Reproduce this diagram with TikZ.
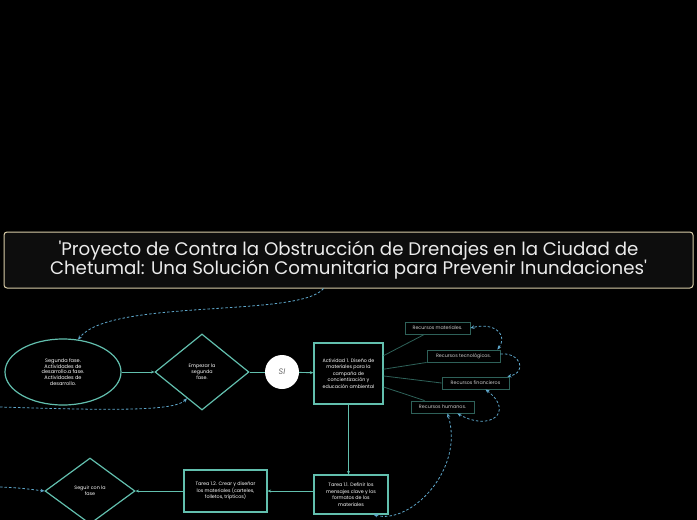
\documentclass[tikz,border=0pt]{standalone}
\usepackage{fontspec}
\setmainfont{Poppins}[Ligatures=TeXOff]
\usetikzlibrary{arrows.meta}
\usetikzlibrary{shapes.geometric}
\usetikzlibrary{calc}
\usetikzlibrary{positioning}
\definecolor{tuerkis}{HTML}{62BFAE}
\definecolor{dunkeltuerkis}{HTML}{2E6159}
\definecolor{hellblau}{HTML}{5FA8CC}
\definecolor{rahmen}{HTML}{D8CCA8}
\tikzset{
  phase/.style={ellipse,draw=tuerkis,line width=1.2pt,fill=black,text=white,
    minimum width=116pt,minimum height=66pt,inner sep=0pt,align=center,
    font=\fontsize{5}{5.8}\selectfont},
  frage/.style={diamond,draw=tuerkis,line width=1.2pt,fill=black,text=white,
    minimum width=94pt,minimum height=76pt,inner sep=0pt,align=center,
    font=\fontsize{4.8}{6}\selectfont},
  aufgabe/.style={rectangle,draw=tuerkis,line width=1.2pt,fill=black,text=white,
    inner sep=0pt,align=center,font=\fontsize{4.8}{6.6}\selectfont},
  mittel/.style={rectangle,draw=dunkeltuerkis,line width=0.9pt,fill=black,
    text=white!80!black,minimum height=12pt,inner sep=0pt,
    font=\fontsize{4.8}{5}\selectfont},
  fluss/.style={tuerkis,line width=0.9pt,-{Stealth[length=3.5pt,width=3pt]}},
  zweig/.style={dunkeltuerkis,line width=0.8pt},
  bezug/.style={hellblau,line width=0.8pt,dash pattern=on 2.5pt off 2pt,
    -{Stealth[length=4pt,width=3.5pt]}},
  beide/.style={bezug,{Stealth[length=4pt,width=3.5pt]}-{Stealth[length=4pt,width=3.5pt]}}
}
\begin{document}
\begin{tikzpicture}[x=1pt,y=-1pt]
  \useasboundingbox (0,0) rectangle (697,520);
  \fill[black] (0,0) rectangle (697,520);
  \clip (0,0) rectangle (697,520);
  % Titel
  \node[draw=rahmen,line width=1pt,rounded corners=3pt,fill=black!95!white,
    text=white!92!black,minimum width=689pt,minimum height=56pt,align=center,
    font=\fontsize{18.2}{19.5}\selectfont] (titel) at (348.5,260)
    {'Proyecto de Contra la Obstrucción de Drenajes en la Ciudad de\\
     Chetumal: Una Solución Comunitaria para Prevenir Inundaciones'};
  % Zweite Phase
  \node[phase] (fase) at (63,372)
    {Segunda fase.\\Actividades de\\desarrollo.a fase.\\Actividades de\\desarrollo.};
  \node[frage] (empezar) at (202,372) {Empezar la\\segunda\\fase.};
  \node[circle,fill=white,minimum size=34pt,inner sep=0pt,text=black!60,
    font=\fontsize{8}{8}\selectfont\itshape] (si) at (282,372) {SI};
  \node[aufgabe,minimum width=69pt,minimum height=61pt] (act) at (348.5,373.5)
    {Actividad 1. Diseño de\\materiales para la\\campaña de\\concientización y\\educación ambiental};
  \node[aufgabe,minimum width=74pt,minimum height=39pt] (t11) at (351,494.5)
    {Tarea 1.1. Definir los\\mensajes clave y los\\formatos de los\\materiales};
  \node[aufgabe,minimum width=83pt,minimum height=42pt] (t12) at (225.5,491)
    {Tarea 1.2. Crear y diseñar\\los materiales (carteles,\\folletos, trípticos)};
  \node[frage,minimum width=90pt,minimum height=66pt] (seguir) at (90,491)
    {Seguir con la\\fase};
  % Recursos
  \foreach \n/\x/\y/\w/\t in {mat/437.5/328/65/Recursos materiales.,
      tec/463.5/356/73/Recursos tecnológicos.,fin/475.5/383/67/Recursos financieros,
      hum/442.5/407/63/Recursos humanos.}
    \node[mittel,minimum width=\w pt] (\n) at (\x,\y) {\t};
  \draw[zweig] (act.27) -- ($(mat.south west)!.3!(mat.south east)$);
  \draw[zweig] (act.7) -- (tec.south west);
  \draw[zweig] (act.-4) -- (fin.west);
  \draw[zweig] (act.-21) -- ($(hum.north west)!.22!(hum.north east)$);
  % Ablauf
  \draw[fluss] (fase) -- (empezar);
  \draw[tuerkis,line width=0.9pt] (empezar) -- (si);
  \draw[fluss] (si) -- (act);
  \draw[fluss] (act) -- (act |- t11.north);
  \draw[fluss] (t11.west |- t12) -- (t12);
  \draw[fluss] (t12) -- (seguir);
  % Beziehungen
  \coordinate (links1) at (0,407);
  \coordinate (links2) at (0,487);
  \draw[bezug] ($(titel.south)+(-25,0)$) .. controls (300,318) and (110,298) .. (fase.65);
  \draw[bezug] (links1) .. controls (100,410) and (175,412) .. (empezar.240);
  \draw[bezug] (links2) .. controls (20,488) .. (seguir.west);
  \draw[beide] ($(tec.north east)+(-3,0)$) .. controls (508,335) and (495,322) .. (mat.east);
  \draw[bezug] ($(tec.east)+(0,-2)$) .. controls (520,352) and (528,372) .. ($(fin.north east)+(-2,0)$);
  \draw[beide] ($(fin.south)+(10,0)$) .. controls (515,412) and (490,432) .. ($(hum.south east)+(-17,0)$);
  \draw[beide] ($(t11.south east)+(-15,0)$) .. controls (410,525) and (465,470) .. ($(hum.south)+(5,0)$);
\end{tikzpicture}
\end{document}
